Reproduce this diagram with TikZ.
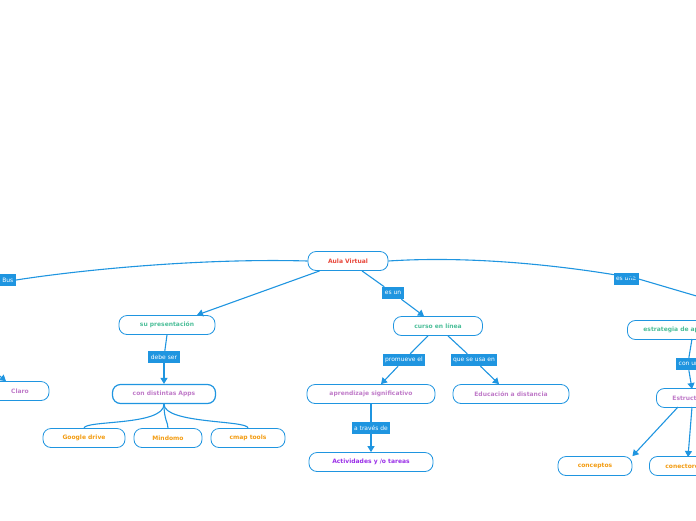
\documentclass[tikz,border=0pt]{standalone}
\usepackage{fontspec}
\setmainfont{DejaVu Sans}
\usetikzlibrary{arrows.meta}
\definecolor{lb}{HTML}{1F95E0}
\definecolor{cred}{HTML}{E8473B}
\definecolor{cgreen}{HTML}{4CBF99}
\definecolor{cpink}{HTML}{C07BC9}
\definecolor{corange}{HTML}{F39C12}
\definecolor{cpurple}{HTML}{9B30E8}
\tikzset{
  x=1pt,y=-1pt,
  box/.style={draw=lb,line width=0.8pt,rounded corners=8pt,fill=white,minimum height=19pt,inner sep=0pt,font=\fontsize{6}{7}\selectfont\bfseries},
  lbl/.style={fill=lb,text=white,inner sep=2.5pt,minimum height=12pt,font=\fontsize{6}{7}\selectfont},
  con/.style={draw=lb,line width=1.1pt},
  arr/.style={con,-{Triangle[length=6pt,width=7pt]}}
}
\begin{document}
\begin{tikzpicture}
\useasboundingbox (0,0) rectangle (696,520);
\clip (0,0) rectangle (696,520);
\node[box,minimum width=80pt,text=cred] (aula) at (348,261) {Aula Virtual};
\node[box,minimum width=96pt,text=cgreen] (su) at (167,325) {su presentación};
\node[box,minimum width=103pt,line width=1.2pt,text=cpink] (apps) at (164,394) {con distintas Apps};
\node[box,minimum width=82pt,text=corange] (gd) at (84,438) {Google drive};
\node[box,minimum width=68pt,text=corange] (mi) at (168,438) {Mindomo};
\node[box,minimum width=74pt,text=corange] (cm) at (248,438) {cmap tools};
\node[box,minimum width=58pt,text=cpink] (claro) at (20,391) {Claro};
\node[box,minimum width=89pt,text=cgreen] (curso) at (438,326) {curso en línea};
\node[box,minimum width=128pt,text=cpink] (apr) at (371,394) {aprendizaje significativo};
\node[box,minimum width=116pt,text=cpink] (edu) at (511,394) {Educación a distancia};
\node[box,minimum width=124pt,text=cpurple] (act) at (371,462) {Actividades y /o tareas};
\node[box,anchor=west,text=cgreen,text width=140pt,align=left,inner xsep=16pt] (est) at (627,330) {estrategia de aprendizaje};
\node[box,anchor=west,text=cpink,text width=60pt,align=left,inner xsep=16pt] (estr) at (656,398) {Estructura};
\node[box,minimum width=74pt,text=corange] (conc) at (595,466) {conceptos};
\node[box,anchor=west,text=corange,text width=60pt,align=left,inner xsep=16pt] (cone) at (649,466) {conectores};
% labels
\node[lbl,anchor=east] (bus) at (16,280) {Bus};
\node[lbl] (esun) at (393,293) {es un};
\node[lbl] (debe) at (164,357) {debe ser};
\node[lbl] (prom) at (404,360) {promueve el};
\node[lbl] (que) at (474,360) {que se usa en};
\node[lbl] (trav) at (371,428) {a través de};
\node[lbl] (esuna) at (626,279) {es una};
\node[lbl,anchor=west] (conu) at (676,364) {con un};
\coordinate (busend) at (-20,283);
\coordinate (claroin) at (-20,360);
\coordinate (estin) at (710,300);
\coordinate (suin) at (197,315);
% connectors
\draw[con] (aula.west) .. controls (200,258) and (80,270) .. (bus.east);
\draw[con] (bus.west) -- (busend);
\draw[arr] (claroin) -- ([xshift=-14pt]claro.north);
\draw[con] (aula.east) .. controls (480,255) and (580,268) .. (esuna.east);
\draw[con] (esuna.east) -- (estin);
\draw[arr] ([xshift=12pt]aula.south west) -- (suin);
\draw[con] ([xshift=14pt]aula.south) -- (esun);
\draw[arr] (esun) -- ([xshift=-14pt]curso.north);
\draw[con] (su.south) -- (debe);
\draw[arr] (debe) -- (apps.north);
\draw[con] (apps.south) .. controls (164,426) and (85,420) .. (gd.north);
\draw[con] (apps.south) .. controls (164,420) and (168,422) .. (mi.north);
\draw[con] (apps.south) .. controls (164,424) and (248,420) .. (cm.north);
\draw[con] ([xshift=-10pt]curso.south) -- (prom);
\draw[arr] (prom) -- ([xshift=10pt]apr.north);
\draw[con] ([xshift=10pt]curso.south) -- (que);
\draw[arr] (que) -- ([xshift=-12pt]edu.north);
\draw[con] (apr.south) -- (trav);
\draw[arr] (trav) -- (act.north);
\draw[con] (692,339) -- (conu.north);
\draw[arr] (conu.south) -- (692,389);
\draw[arr] (678,407) -- (conc.north east);
\draw[arr] (692,407) -- (688,457);
\end{tikzpicture}
\end{document}
